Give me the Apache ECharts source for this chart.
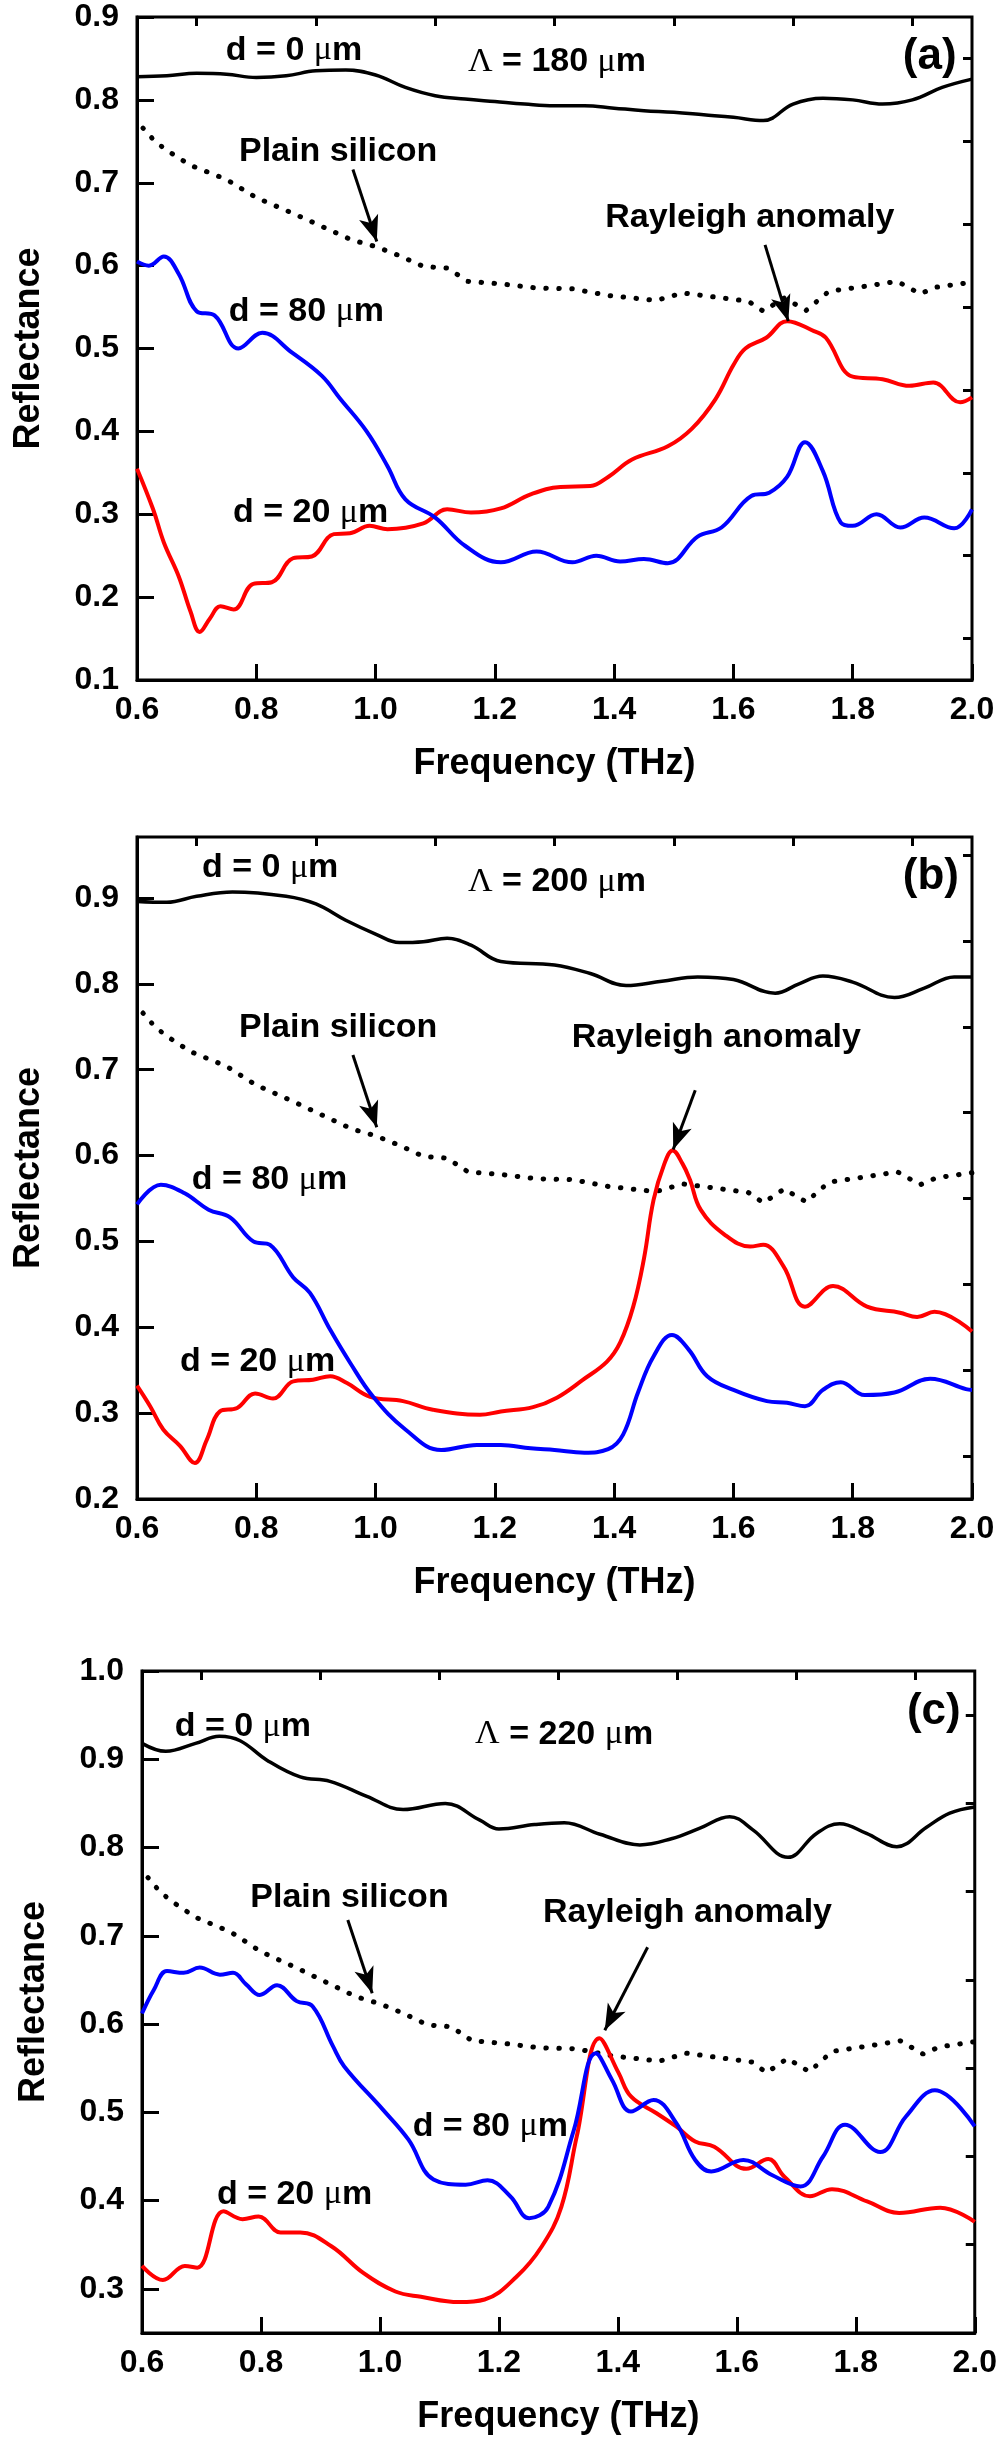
<!DOCTYPE html>
<html>
<head>
<meta charset="utf-8">
<script src="https://cdn.jsdelivr.net/npm/echarts@6/dist/echarts.min.js"></script>
<style>
  html, body { margin: 0; padding: 0; background: #fff; }
  #main { width: 1000px; height: 2440px; }
</style>
</head>
<body>
<div id="main"></div>
<script>
// tick values
var freqTicks = [0.6, 0.8, 1.0, 1.2, 1.4, 1.6, 1.8, 2.0];
var freqMinor = [0.7, 0.9, 1.1, 1.3, 1.5, 1.7, 1.9];
var reflTicksA = [0.1, 0.2, 0.3, 0.4, 0.5, 0.6, 0.7, 0.8, 0.9];
var reflMinorA = [0.15, 0.25, 0.35, 0.45, 0.55, 0.65, 0.75, 0.85];
var reflTicksB = [0.2, 0.3, 0.4, 0.5, 0.6, 0.7, 0.8, 0.9];
var reflMinorB = [0.25, 0.35, 0.45, 0.55, 0.65, 0.75, 0.85, 0.95];
var reflTicksC = [0.3, 0.4, 0.5, 0.6, 0.7, 0.8, 0.9, 1.0];
var reflMinorC = [0.35, 0.45, 0.55, 0.65, 0.75, 0.85, 0.95];

// plain silicon (dotted, same measurement in all panels)
var plainSi = [[0.61,0.766],[0.63,0.750],[0.65,0.739],[0.69,0.721],[0.75,0.704],[0.80,0.682],[0.865,0.662],[0.92,0.644],[0.96,0.631],[1.00,0.623],[1.04,0.612],[1.08,0.599],[1.12,0.597],[1.155,0.581],[1.21,0.578],[1.27,0.573],[1.33,0.572],[1.39,0.564],[1.47,0.558],[1.515,0.567],[1.57,0.562],[1.625,0.557],[1.65,0.545],[1.685,0.561],[1.722,0.546],[1.76,0.569],[1.82,0.575],[1.875,0.581],[1.913,0.566],[1.94,0.574],[2.00,0.580]];

// (a) period 180 um
var d0A = [[0.60,0.828],[0.65,0.829],[0.70,0.832],[0.75,0.831],[0.80,0.827],[0.85,0.829],[0.90,0.835],[0.95,0.836],[1.00,0.830],[1.05,0.815],[1.10,0.805],[1.15,0.801],[1.20,0.798],[1.25,0.795],[1.30,0.793],[1.35,0.793],[1.40,0.790],[1.45,0.787],[1.50,0.785],[1.55,0.782],[1.60,0.779],[1.65,0.775],[1.70,0.795],[1.75,0.802],[1.80,0.800],[1.85,0.795],[1.90,0.800],[1.95,0.815],[2.00,0.825]];
var d80A = [[0.60,0.605],[0.62,0.600],[0.645,0.611],[0.67,0.590],[0.70,0.545],[0.73,0.540],[0.77,0.500],[0.81,0.519],[0.86,0.495],[0.91,0.467],[0.94,0.440],[0.985,0.400],[1.02,0.358],[1.05,0.318],[1.10,0.296],[1.15,0.262],[1.21,0.242],[1.27,0.255],[1.33,0.242],[1.37,0.250],[1.41,0.243],[1.45,0.246],[1.49,0.241],[1.54,0.273],[1.58,0.284],[1.63,0.322],[1.66,0.326],[1.69,0.345],[1.72,0.387],[1.75,0.352],[1.78,0.290],[1.80,0.286],[1.84,0.300],[1.88,0.284],[1.92,0.296],[1.97,0.283],[2.00,0.306]];
var d20A = [[0.60,0.355],[0.627,0.306],[0.645,0.266],[0.67,0.225],[0.69,0.182],[0.705,0.158],[0.722,0.174],[0.74,0.189],[0.762,0.185],[0.795,0.216],[0.826,0.218],[0.862,0.247],[0.893,0.249],[0.93,0.276],[0.957,0.277],[0.99,0.286],[1.02,0.282],[1.08,0.289],[1.12,0.306],[1.16,0.302],[1.21,0.307],[1.26,0.324],[1.31,0.333],[1.36,0.334],[1.39,0.345],[1.43,0.366],[1.49,0.382],[1.53,0.403],[1.57,0.439],[1.60,0.480],[1.62,0.500],[1.655,0.513],[1.69,0.533],[1.735,0.521],[1.755,0.513],[1.80,0.466],[1.85,0.463],[1.895,0.455],[1.935,0.459],[1.98,0.435],[2.00,0.441]];

// (b) period 200 um
var d0B = [[0.60,0.896],[0.65,0.895],[0.70,0.902],[0.76,0.907],[0.85,0.902],[0.90,0.893],[0.95,0.874],[1.00,0.858],[1.04,0.848],[1.08,0.849],[1.12,0.853],[1.16,0.845],[1.21,0.826],[1.30,0.822],[1.36,0.812],[1.42,0.798],[1.48,0.803],[1.54,0.808],[1.60,0.805],[1.67,0.789],[1.71,0.800],[1.75,0.809],[1.80,0.802],[1.87,0.784],[1.92,0.795],[1.97,0.808],[2.00,0.808]];
var d80B = [[0.60,0.543],[0.64,0.566],[0.68,0.556],[0.72,0.537],[0.756,0.528],[0.795,0.500],[0.823,0.496],[0.862,0.458],[0.89,0.440],[0.924,0.397],[0.957,0.359],[0.996,0.319],[1.05,0.281],[1.11,0.257],[1.17,0.263],[1.21,0.263],[1.26,0.259],[1.30,0.257],[1.35,0.254],[1.39,0.258],[1.415,0.275],[1.44,0.324],[1.466,0.366],[1.497,0.391],[1.525,0.374],[1.556,0.343],[1.60,0.327],[1.656,0.314],[1.69,0.312],[1.72,0.308],[1.75,0.327],[1.78,0.336],[1.82,0.321],[1.87,0.324],[1.93,0.340],[1.99,0.328],[2.00,0.327]];
var d20B = [[0.60,0.332],[0.622,0.308],[0.644,0.281],[0.672,0.262],[0.697,0.242],[0.717,0.269],[0.739,0.302],[0.768,0.306],[0.798,0.323],[0.828,0.317],[0.862,0.337],[0.895,0.339],[0.924,0.343],[0.952,0.335],[0.991,0.319],[1.046,0.314],[1.096,0.304],[1.175,0.298],[1.21,0.302],[1.264,0.307],[1.304,0.318],[1.348,0.339],[1.388,0.360],[1.41,0.382],[1.432,0.424],[1.45,0.480],[1.466,0.548],[1.484,0.590],[1.498,0.606],[1.515,0.590],[1.527,0.572],[1.545,0.537],[1.585,0.508],[1.628,0.494],[1.65,0.496],[1.684,0.471],[1.72,0.424],[1.767,0.448],[1.824,0.424],[1.879,0.417],[1.908,0.412],[1.937,0.418],[2.00,0.395]];

// (c) period 220 um
var d0C = [[0.60,0.918],[0.64,0.909],[0.69,0.918],[0.73,0.926],[0.765,0.921],[0.81,0.899],[0.866,0.880],[0.916,0.875],[0.978,0.858],[1.039,0.843],[1.11,0.850],[1.168,0.831],[1.20,0.821],[1.26,0.826],[1.31,0.828],[1.37,0.815],[1.437,0.803],[1.49,0.810],[1.538,0.822],[1.588,0.835],[1.627,0.820],[1.686,0.789],[1.734,0.816],[1.773,0.827],[1.818,0.816],[1.869,0.801],[1.919,0.823],[1.958,0.839],[2.00,0.846]];
var d80C = [[0.60,0.612],[0.62,0.639],[0.642,0.660],[0.67,0.658],[0.697,0.664],[0.731,0.656],[0.753,0.658],[0.775,0.645],[0.798,0.633],[0.827,0.644],[0.86,0.626],[0.887,0.620],[0.921,0.575],[0.94,0.552],[1.005,0.503],[1.048,0.469],[1.09,0.424],[1.144,0.418],[1.181,0.423],[1.219,0.405],[1.251,0.380],[1.283,0.393],[1.326,0.480],[1.363,0.567],[1.39,0.537],[1.422,0.501],[1.46,0.514],[1.498,0.488],[1.53,0.446],[1.557,0.433],[1.611,0.446],[1.659,0.429],[1.707,0.416],[1.745,0.450],[1.782,0.486],[1.841,0.455],[1.884,0.495],[1.933,0.525],[2.00,0.484]];
var d20C = [[0.60,0.326],[0.635,0.310],[0.672,0.326],[0.693,0.324],[0.737,0.388],[0.769,0.379],[0.796,0.382],[0.833,0.364],[0.866,0.364],[0.919,0.348],[0.972,0.318],[1.026,0.297],[1.069,0.291],[1.133,0.285],[1.176,0.288],[1.23,0.314],[1.272,0.348],[1.305,0.393],[1.331,0.473],[1.369,0.584],[1.401,0.545],[1.422,0.518],[1.465,0.499],[1.498,0.484],[1.53,0.467],[1.562,0.461],[1.616,0.436],[1.653,0.447],[1.68,0.427],[1.723,0.405],[1.76,0.413],[1.819,0.399],[1.873,0.386],[1.942,0.392],[2.00,0.376]];

var FONT = 'Liberation Sans';
var chartDom = document.getElementById('main');
var myChart = echarts.init(chartDom, null, { renderer: 'canvas' });

var panels = [
  { grid: { left: 137, top: 17, right: 28, height: 663 }, ymin: 0.1, ymax: 0.9, ticks: reflTicksA, minor: reflMinorA, d0: d0A, d80: d80A, d20: d20A,
    arrows: [[[0.962, 0.716], [1.002, 0.629]], [[1.653, 0.625], [1.692, 0.533]]],
    texts: [['d = 0 ', 0.749, 0.860, 'mu'], ['180', 1.155, 0.846, 'lambda'], ['(a)', 1.884, 0.852, 'tag'],
            ['Plain silicon', 0.771, 0.737, 'plain'], ['d = 80 ', 0.754, 0.545, 'mu'],
            ['Rayleigh anomaly', 1.385, 0.658, 'plain'], ['d = 20 ', 0.761, 0.302, 'mu']] },
  { grid: { left: 137, top: 837, right: 28, height: 662 }, ymin: 0.2, ymax: 0.971, ticks: reflTicksB, minor: reflMinorB, d0: d0B, d80: d80B, d20: d20B,
    arrows: [[[0.962, 0.717], [1.002, 0.633]], [[1.536, 0.676], [1.499, 0.607]]],
    texts: [['d = 0 ', 0.709, 0.935, 'mu'], ['200', 1.155, 0.919, 'lambda'], ['(b)', 1.884, 0.924, 'tag'],
            ['Plain silicon', 0.771, 0.749, 'plain'], ['d = 80 ', 0.692, 0.572, 'mu'],
            ['Rayleigh anomaly', 1.329, 0.737, 'plain'], ['d = 20 ', 0.672, 0.360, 'mu']] },
  { grid: { left: 142, top: 1671, right: 25, height: 662 }, ymin: 0.25, ymax: 1.0, ticks: reflTicksC, minor: reflMinorC, d0: d0C, d80: d80C, d20: d20C,
    arrows: [[[0.946, 0.718], [0.987, 0.635]], [[1.450, 0.687], [1.378, 0.593]]],
    texts: [['d = 0 ', 0.655, 0.937, 'mu'], ['220', 1.160, 0.928, 'lambda'], ['(c)', 1.886, 0.954, 'tag'],
            ['Plain silicon', 0.782, 0.743, 'plain'], ['Rayleigh anomaly', 1.274, 0.726, 'plain'],
            ['d = 80 ', 1.055, 0.484, 'mu'], ['d = 20 ', 0.726, 0.407, 'mu']] }
];

var tickStyle = { color: '#000', width: 3 };
var labelStyle = { color: '#000', fontFamily: FONT, fontWeight: 'bold', fontSize: 32 };

var grids = [], xAxes = [], yAxes = [], series = [];
panels.forEach(function (p, i) {
  grids.push(Object.assign({ show: true, borderColor: '#000', borderWidth: 3, backgroundColor: 'transparent' }, p.grid));
  // x major + minor
  xAxes.push({
    type: 'value', gridIndex: i, min: 0.6, max: 2.0,
    name: 'Frequency (THz)', nameLocation: 'middle', nameGap: 66,
    nameTextStyle: { color: '#000', fontFamily: FONT, fontWeight: 'bold', fontSize: 36 },
    axisLine: { show: true, onZero: false, lineStyle: tickStyle },
    axisTick: { show: true, inside: true, length: 16, lineStyle: tickStyle, customValues: freqTicks },
    axisLabel: Object.assign({ margin: 14, customValues: freqTicks, formatter: function (v) { return v.toFixed(1); } }, labelStyle),
    splitLine: { show: false }
  });
  xAxes.push({
    type: 'value', gridIndex: i, min: 0.6, max: 2.0,
    axisLine: { show: false },
    axisTick: { show: true, inside: true, length: 9, lineStyle: tickStyle, customValues: freqMinor },
    axisLabel: { show: false }, splitLine: { show: false }
  });
  yAxes.push({
    type: 'value', gridIndex: i, min: p.ymin, max: p.ymax,
    name: 'Reflectance', nameLocation: 'middle', nameGap: 90,
    nameTextStyle: { color: '#000', fontFamily: FONT, fontWeight: 'bold', fontSize: 36 },
    axisLine: { show: true, onZero: false, lineStyle: tickStyle },
    axisTick: { show: true, inside: true, length: 17, lineStyle: tickStyle, customValues: p.ticks },
    axisLabel: Object.assign({ margin: 18, customValues: p.ticks, formatter: function (v) { return v.toFixed(1); } }, labelStyle),
    splitLine: { show: false }
  });
  yAxes.push({
    type: 'value', gridIndex: i, min: p.ymin, max: p.ymax,
    axisLine: { show: false },
    axisTick: { show: true, inside: true, length: 9, lineStyle: tickStyle, customValues: p.minor },
    axisLabel: { show: false }, splitLine: { show: false }
  });
  var xi = 2 * i, yi = 2 * i;
  series.push({
    type: 'line', xAxisIndex: xi, yAxisIndex: yi, data: plainSi, showSymbol: false, smooth: false,
    lineStyle: { color: '#000', width: 5, type: [0.5, 12.5], cap: 'round' }, z: 2
  });
  series.push({
    type: 'line', xAxisIndex: xi, yAxisIndex: yi, data: p.d20, showSymbol: false, smooth: 0.4,
    lineStyle: { color: '#ff0000', width: 4 }, z: 3
  });
  series.push({
    type: 'line', xAxisIndex: xi, yAxisIndex: yi, data: p.d80, showSymbol: false, smooth: 0.4,
    lineStyle: { color: '#0000ff', width: 4 }, z: 4
  });
  series.push({
    type: 'line', xAxisIndex: xi, yAxisIndex: yi, data: p.d0, showSymbol: false, smooth: 0.4,
    lineStyle: { color: '#000', width: 3.5 }, z: 4,
    markLine: {
      silent: true, animation: false, symbol: ['none', 'arrow'], symbolSize: [15, 26],
      label: { show: false },
      lineStyle: { color: '#000', width: 3, type: 'solid' },
      data: p.arrows.map(function (a) { return [{ coord: a[0] }, { coord: a[1] }]; })
    }
  });
});

var option = {
  animation: false,
  backgroundColor: '#fff',
  grid: grids,
  xAxis: xAxes,
  yAxis: yAxes,
  series: series
};
option && myChart.setOption(option);

// annotation texts, placed in data coordinates
var rich = {
  b: { fontFamily: FONT, fontWeight: 'bold', fontSize: 34, fill: '#000' },
  s: { fontFamily: 'Liberation Serif', fontSize: 34, fill: '#000' },
  t: { fontFamily: FONT, fontWeight: 'bold', fontSize: 44, fill: '#000' }
};
var graphics = [];
panels.forEach(function (p, i) {
  p.texts.forEach(function (t) {
    var pt = myChart.convertToPixel({ xAxisIndex: 2 * i, yAxisIndex: 2 * i }, [t[1], t[2]]);
    var txt;
    if (t[3] === 'mu') txt = '{b|' + t[0] + '}{s|\u03bc}{b|m}';
    else if (t[3] === 'lambda') txt = '{s|\u039b}{b| = ' + t[0] + ' }{s|\u03bc}{b|m}';
    else if (t[3] === 'tag') txt = '{t|' + t[0] + '}';
    else txt = '{b|' + t[0] + '}';
    graphics.push({
      type: 'text', x: pt[0], y: pt[1], z: 10, silent: true,
      style: { text: txt, rich: rich, align: 'left', verticalAlign: 'middle' }
    });
  });
});
myChart.setOption({ graphic: graphics });
</script>
</body>
</html>
